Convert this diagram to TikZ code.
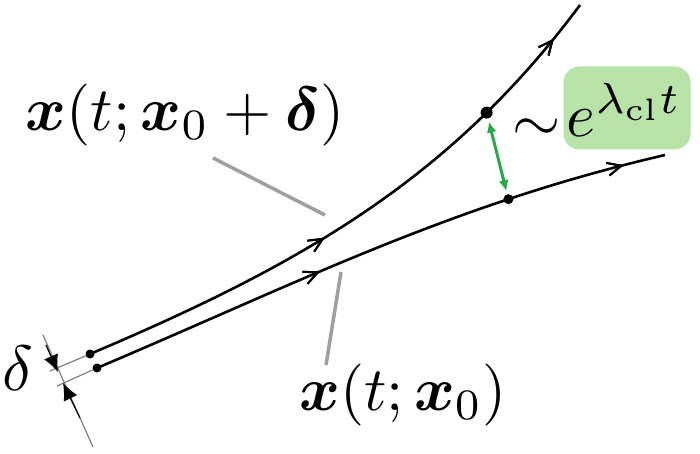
\documentclass[tikz,border=0pt]{standalone}
\usepackage{amsmath,bm}
\usetikzlibrary{decorations.markings,arrows.meta}
\definecolor{boxg}{RGB}{183,226,168}
\definecolor{arrg}{RGB}{40,170,70}
\begin{document}
\begin{tikzpicture}[x=1pt,y=-1pt,
  traj/.style={line width=2.6pt},
  arr/.style={postaction={decorate},decoration={markings,mark=at position #1 with {\arrow{Straight Barb[length=14pt,width=13pt,line width=2pt]}}}},
  lead/.style={gray!75,line width=3.5pt},
  dot/.style={circle,fill,inner sep=0pt,minimum size=#1},
  lbl/.style={scale=6.2,inner sep=0pt}]
\useasboundingbox (0,0) rectangle (700,454);
\draw[traj,arr=0.43,arr=0.93] (90,354) .. controls (300,265) and (450,180) .. (580,5)
  coordinate[pos=0] (u0) coordinate[pos=0.77] (u1);
\draw[traj,arr=0.4,arr=0.93] (97,368) .. controls (300,282) and (450,205) .. (665,155)
  coordinate[pos=0] (l0) coordinate[pos=0.74] (l1);
\node[dot=12pt] (du) at (u1) {};
\node[dot=10pt] (dl) at (l1) {};
\node[dot=9pt] (su) at (u0) {};
\node[dot=9pt] (sl) at (l0) {};
\draw[{Latex[length=11pt,width=10pt]}-{Latex[length=11pt,width=10pt]},arrg,line width=3pt,shorten <=3pt,shorten >=3pt] (du) -- (dl);
\node[fill=boxg,rounded corners=16pt,minimum width=127pt,minimum height=83pt] (box) at (627,108) {};
\node[lbl] (e) at (624,110) {$e^{\lambda_{\mathrm{cl}}t}$};
\node[lbl] (sim) at (537,130) {$\sim$};
\node[lbl] (top) at (185,115) {$\bm{x}(t;\bm{x}_0+\bm{\delta})$};
\node[lbl] (bot) at (403,395) {$\bm{x}(t;\bm{x}_0)$};
\coordinate (t1) at (213,158); \coordinate (t2) at (325,215);
\draw[lead] (t1) -- (t2);
\coordinate (b1) at (341,272); \coordinate (b2) at (326,365);
\draw[lead] (b1) -- (b2);
% delta dimension
\coordinate (e1) at (50,371); \coordinate (e2) at (57,386);
\draw[gray,line width=1.2pt] (su) -- (e1);
\draw[gray,line width=1.2pt] (sl) -- (e2);
\coordinate (d0) at (43,335); \coordinate (d1) at (93,447);
\draw[gray,line width=1.2pt] (d0) -- (d1);
\coordinate (a1) at (46,345); \coordinate (a2) at (58,372);
\coordinate (a3) at (80,418); \coordinate (a4) at (63,383);
\draw[-{Latex[length=17pt,width=15pt]},line width=1.2pt] (a1) -- (a2);
\draw[-{Latex[length=17pt,width=15pt]},line width=1.2pt] (a3) -- (a4);
\node[scale=6.4] (dl2) at (18,368) {$\delta$};
\end{tikzpicture}
\end{document}
